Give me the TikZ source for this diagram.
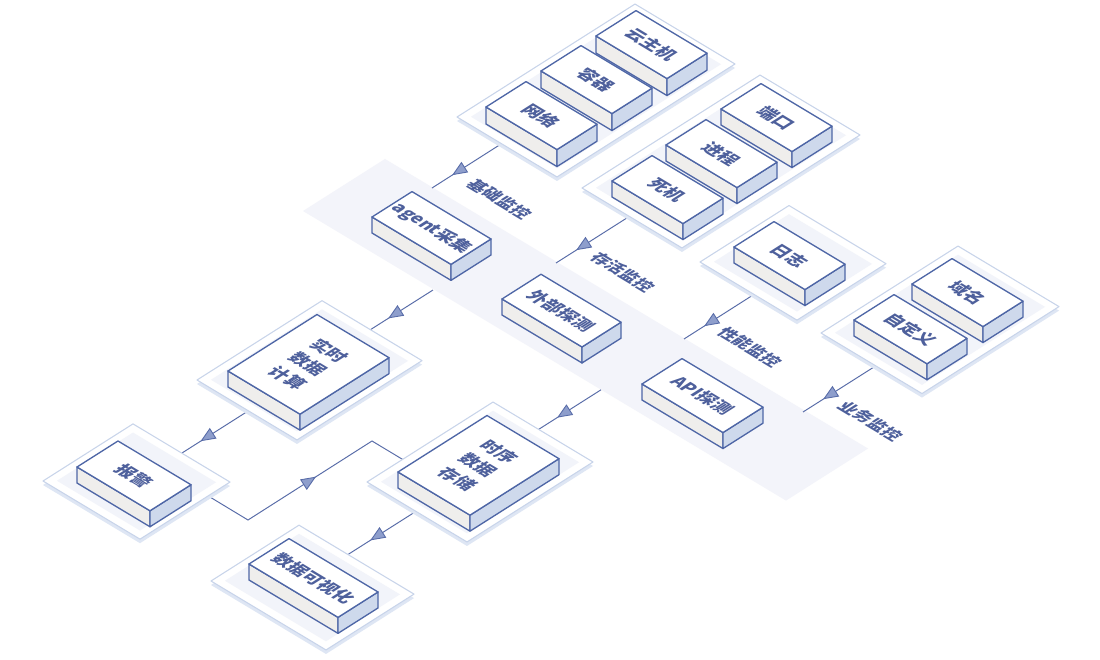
\documentclass[tikz,border=0pt]{standalone}
\usepackage{fontspec}
\setmainfont{Noto Sans CJK SC}
\usetikzlibrary{arrows.meta,decorations.markings}
\definecolor{boxline}{RGB}{78,102,166}
\definecolor{txt}{RGB}{78,96,156}
\definecolor{leftf}{RGB}{239,238,236}
\definecolor{rightf}{RGB}{206,217,236}
\definecolor{platel}{RGB}{200,212,234}
\definecolor{plates}{RGB}{222,230,244}
\definecolor{platein}{RGB}{242,244,250}
\definecolor{bandf}{RGB}{243,244,250}
\definecolor{linec}{RGB}{88,108,168}
\definecolor{arrowf}{RGB}{142,158,204}
\tikzset{
  iso/.style={x={(0.02cm,-0.012cm)}, y={(0.02cm,0.0127cm)}, z={(0cm,-0.02cm)}},
  isocm/.style={cm={0.857,-0.514,0.844,0.536,(0,0)}},
  boxface/.style={draw=boxline, line width=0.75pt, line join=round},
  isotxt/.style={transform shape, text=txt, font=\bfseries\fontsize{10}{14}\selectfont, align=center, inner sep=0pt},
  lbltxt/.style={transform shape, text=txt, font=\bfseries\fontsize{9.5}{11}\selectfont, inner sep=0pt},
  flow/.style={draw=linec, line width=0.55pt, postaction={decorate},
    decoration={markings, mark=at position #1 with {\arrow{Triangle[length=8.5pt,width=7pt,fill=arrowf,color=linec,line width=0.5pt]}}}},
}
\newcommand{\isobox}[7]{%
  \begin{scope}[shift={(#2,#3)}, iso]
    \filldraw[boxface, fill=leftf] (0,0,0) -- (#4,0,0) -- (#4,0,#6) -- (0,0,#6) -- cycle;
    \filldraw[boxface, fill=rightf] (#4,0,0) -- (#4,#5,0) -- (#4,#5,#6) -- (#4,0,#6) -- cycle;
    \filldraw[boxface, fill=white] (0,0,0) -- (#4,0,0) -- (#4,#5,0) -- (0,#5,0) -- cycle;
  \end{scope}
  \begin{scope}[shift={({#2+#4/2+#5/2},{#3+0.3*#4-0.3175*#5})}, isocm]
    \node[isotxt] (#1) at (0,0) {#7};
  \end{scope}}
\newcommand{\isoplate}[4]{%
  \begin{scope}[shift={(#1,#2)}, iso]
    \fill[plates] (0,0,4) -- (#3,0,4) -- (#3,#4,4) -- (0,#4,4) -- cycle;
    \filldraw[fill=white, draw=platel, line width=0.6pt, line join=round] (0,0,0) -- (#3,0,0) -- (#3,#4,0) -- (0,#4,0) -- cycle;
    \fill[platein] (7,7,0) -- ({#3-7},7,0) -- ({#3-7},{#4-7},0) -- (7,{#4-7},0) -- cycle;
  \end{scope}}
\newcommand{\isolabel}[4]{%
  \begin{scope}[shift={(#2,#3)}, isocm]
    \node[lbltxt] (#1) at (0,0) {#4};
  \end{scope}}
\begin{document}
\begin{tikzpicture}[x=0.02cm, y=-0.02cm]
\useasboundingbox (0,0) rectangle (1100,660);
\fill[white] (0,0) rectangle (1100,660);
% band
\begin{scope}[shift={(303,211)}, iso]
  \fill[bandf] (0,0,0) -- (483,0,0) -- (483,82,0) -- (0,82,0) -- cycle;
\end{scope}
% connector end points
\coordinate (c1a) at (512,137);   \coordinate (c1b) at (432,188);
\coordinate (c2a) at (641,209);   \coordinate (c2b) at (556,263);
\coordinate (c3a) at (764,288);   \coordinate (c3b) at (684,339);
\coordinate (c4a) at (885,360);   \coordinate (c4b) at (803,412);
\coordinate (c5a) at (433,290);   \coordinate (c5b) at (370.4,329.7);
\coordinate (c6a) at (258,404.7); \coordinate (c6b) at (182,453);
\coordinate (c7a) at (601,389.8); \coordinate (c7b) at (538.6,429.4);
\coordinate (c8a) at (426,505);   \coordinate (c8b) at (348,554.5);
\coordinate (c9a) at (200,491);   \coordinate (c9m) at (248,520);
\coordinate (c9n) at (372,441);   \coordinate (c9b) at (402.6,459.4);
\draw[flow=-13.6pt] (c1a) -- (c1b);
\draw[flow=-13.6pt] (c2a) -- (c2b);
\draw[flow=-13.6pt] (c3a) -- (c3b);
\draw[flow=-13.6pt] (c4a) -- (c4b);
\draw[flow=-12pt] (c5a) -- (c5b);
\draw[flow=-12.5pt] (c6a) -- (c6b);
\draw[flow=-12.5pt] (c7a) -- (c7b);
\draw[flow=-15pt] (c8a) -- (c8b);
\draw[flow=-58pt] (c9a) -- (c9m) -- (c9n) -- (c9b);
% band boxes
\isobox{agent}{372}{217}{79}{40}{16}{agent采集}
\isobox{ext}{502}{299}{80}{39}{16}{外部探测}
\isobox{api}{642}{384}{81}{40}{16}{API探测}
% basic monitoring group
\isoplate{457}{117}{100}{178}
\isobox{cloud}{596}{36}{71}{40}{17}{云主机}
\isobox{container}{541}{71}{71}{40}{17}{容器}
\isobox{net}{486}{107}{71}{40}{17}{网络}
% survival group
\isoplate{582}{188}{100}{178}
\isobox{port}{721}{109}{71}{40}{16}{端口}
\isobox{proc}{666}{145}{71}{40}{16}{进程}
\isobox{dead}{612}{181}{71}{40}{16}{死机}
% log group
\isoplate{700}{262}{97}{89}
\isobox{log}{734}{247}{71}{40}{16}{日志}
% business group
\isoplate{821}{333}{101}{137}
\isobox{domain}{912}{284}{71}{40}{16}{域名}
\isobox{custom}{854}{320}{73}{40}{16}{自定义}
% realtime
\isoplate{197}{380}{100}{125}
\isobox{rt}{228}{371}{72}{89}{16}{实时\\数据\\计算}
% alarm
\isoplate{43}{481}{97}{90}
\isobox{alarm}{77}{467}{73}{41}{16}{报警}
% tsdb
\isoplate{367}{482}{100}{126}
\isobox{tsdb}{398}{472}{72}{89}{16}{时序\\数据\\存储}
% visual
\isoplate{211}{581}{115}{88}
\isobox{vis}{249}{564}{89}{40}{16}{数据可视化}
% labels
\isolabel{l1}{500}{199}{基础监控}
\isolabel{l2}{623}{272}{存活监控}
\isolabel{l3}{750}{347}{性能监控}
\isolabel{l4}{871}{421}{业务监控}
\end{tikzpicture}
\end{document}
